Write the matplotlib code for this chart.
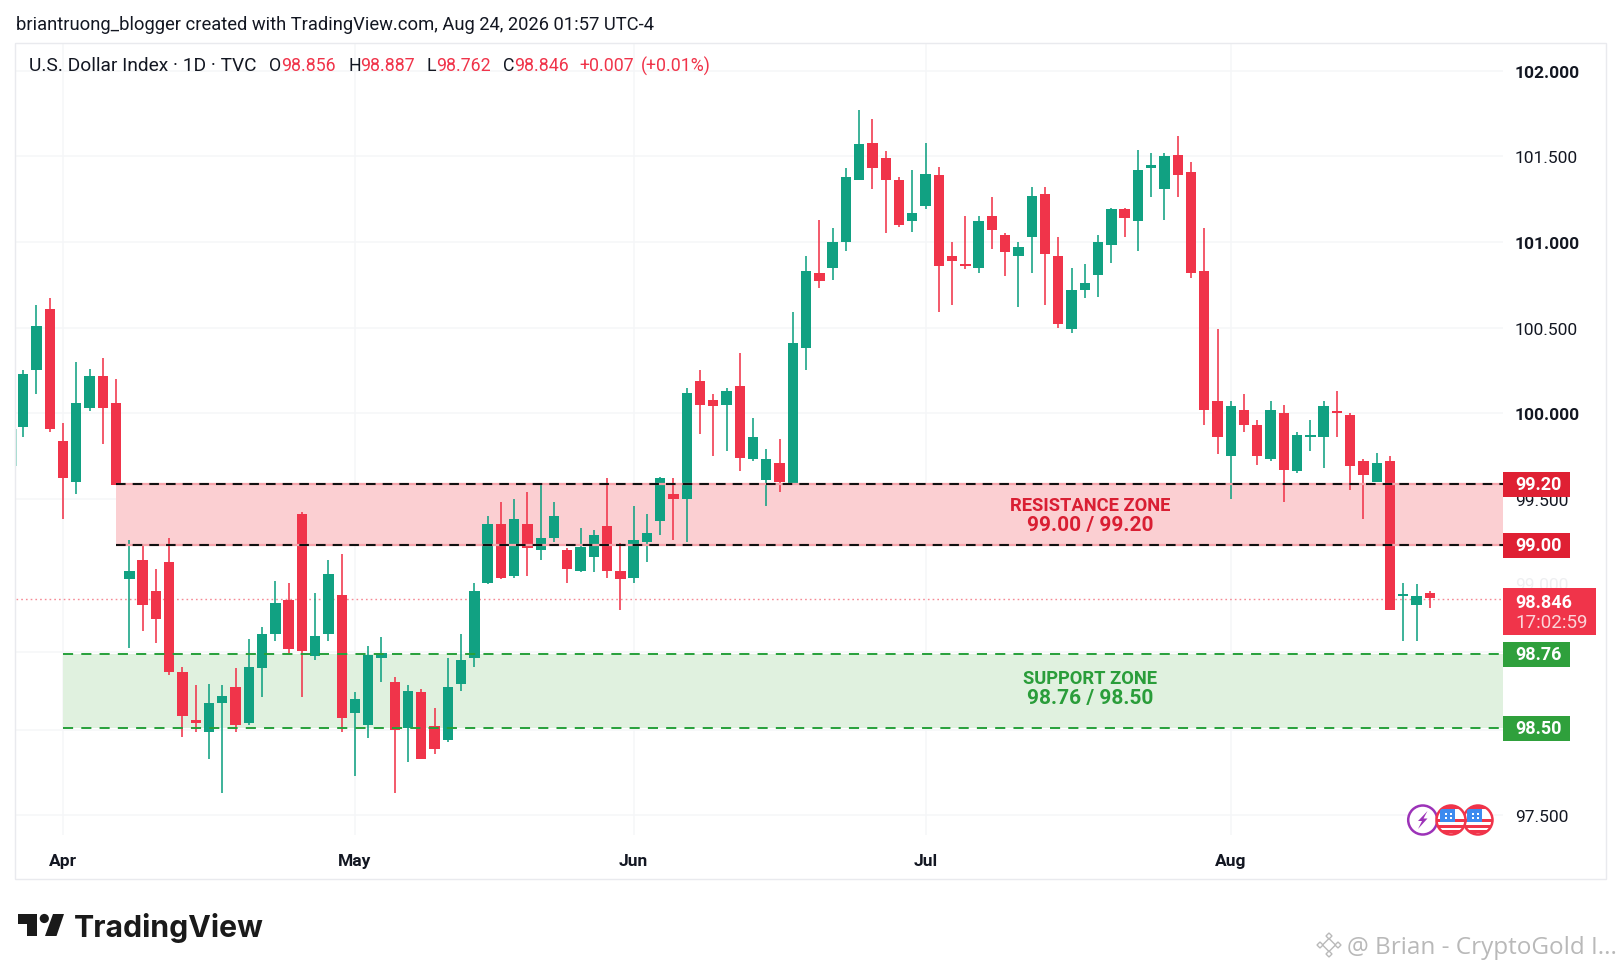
import matplotlib
matplotlib.use("Agg")
import matplotlib.pyplot as plt
from matplotlib.patches import Rectangle, Circle, Polygon, FancyBboxPatch

FONT = "Roboto"
plt.rcParams["font.family"] = [FONT, "DejaVu Sans"]

# ---------- data ----------
opens = [99.92,100.25,100.61,99.84,99.60,100.03,100.22,100.06,99.03,99.14,98.96,99.13,98.49,98.21,98.14,98.31,98.40,98.19,98.51,98.71,
         98.91,99.41,98.58,98.71,98.94,98.25,98.18,98.57,98.43,98.16,98.37,98.17,98.09,98.42,98.57,99.01,99.35,99.05,99.35,99.20,
         99.27,99.20,99.08,99.16,99.34,99.08,99.04,99.25,99.37,99.53,99.50,100.19,100.08,100.05,100.16,99.73,99.61,99.71,99.59,100.38,
         100.82,100.85,101.00,101.36,101.58,101.49,101.36,101.12,101.21,101.39,100.92,100.87,100.85,101.15,101.04,100.92,101.03,101.28,100.92,100.49,
         100.72,100.81,100.98,101.19,101.12,101.43,101.31,101.51,101.41,100.83,100.07,99.75,100.02,99.93,99.73,100.00,99.66,99.86,99.86,100.01,
         99.99,99.72,99.60,99.72,98.93,98.88,98.95]
highs = [100.25,100.63,100.67,99.94,100.30,100.26,100.32,100.20,99.26,99.23,99.09,99.27,98.52,98.41,98.42,98.41,98.51,98.68,98.75,99.02,
         99.01,99.42,98.95,99.14,99.18,98.37,98.64,98.69,98.46,98.41,98.39,98.28,98.57,98.71,99.01,99.40,99.48,99.50,99.54,99.59,
         99.48,99.21,99.33,99.32,99.62,99.24,99.46,99.41,99.63,99.62,100.15,100.25,100.11,100.15,100.35,99.97,99.79,99.85,100.59,100.92,
         101.13,101.08,101.43,101.77,101.72,101.53,101.38,101.42,101.58,101.44,101.00,101.15,101.15,101.26,101.05,101.00,101.32,101.32,101.03,100.85,
         100.87,101.04,101.20,101.20,101.54,101.52,101.52,101.62,101.47,101.08,100.49,100.07,100.11,99.96,100.07,100.05,99.89,99.96,100.07,100.13,
         100.00,99.73,99.77,99.75,99.01,99.00,98.96]
lows = [99.86,100.11,99.89,99.38,99.53,100.01,99.82,99.58,98.63,98.73,98.66,98.47,98.11,98.14,97.98,97.78,98.14,98.18,98.34,98.67,
        98.60,98.34,98.56,98.67,98.14,97.88,98.10,98.43,97.78,97.96,97.98,98.01,98.08,98.38,98.52,99.00,99.03,99.04,99.05,99.14,
        99.25,99.01,99.07,99.07,99.04,98.85,99.01,99.13,99.29,99.26,99.25,99.88,99.75,99.78,99.66,99.72,99.46,99.54,99.58,100.25,
        100.73,100.78,100.95,101.36,101.31,101.05,101.09,101.06,101.19,100.59,100.63,100.84,100.82,100.96,100.80,100.62,100.82,100.63,100.50,100.47,
        100.67,100.68,100.88,101.03,100.95,101.26,101.13,101.26,100.79,99.93,99.76,99.50,99.89,99.70,99.72,99.48,99.65,99.78,99.68,99.86,
        99.55,99.38,99.60,98.85,98.67,98.67,98.86]
closes = [100.23,100.51,99.91,99.62,100.06,100.22,100.03,99.58,99.08,98.88,98.80,98.49,98.23,98.19,98.31,98.35,98.18,98.52,98.71,98.89,
          98.62,98.61,98.70,99.06,98.22,98.33,98.59,98.60,98.15,98.38,97.98,98.04,98.40,98.56,98.96,99.35,99.04,99.38,99.21,99.27,
          99.40,99.09,99.22,99.29,99.08,99.03,99.26,99.30,99.62,99.50,100.12,100.05,100.04,100.13,99.74,99.86,99.73,99.60,100.41,100.83,
          100.77,101.00,101.38,101.57,101.43,101.36,101.10,101.17,101.40,100.86,100.89,100.86,101.12,101.07,100.94,100.97,101.27,100.93,100.52,100.72,
          100.76,101.00,101.19,101.14,101.42,101.45,101.50,101.39,100.82,100.02,99.86,100.04,99.93,99.75,100.02,99.67,99.87,99.87,100.04,100.00,
          99.69,99.64,99.71,98.85,98.94,98.93,98.92]

edge_wick = (99.69, 99.91)          # clipped candle at the left border

month_labels = ["Apr", "May", "Jun", "Jul", "Aug"]
month_index = [3, 25, 46, 68, 91]

y_tick_values = [102.0, 101.5, 101.0, 100.5, 100.0, 99.5, 98.607, 98.15, 97.652]
y_tick_labels = ["102.000", "101.500", "101.000", "100.500", "100.000", "99.500", "", "", "97.500"]

resistance_levels = [99.588, 99.233]
resistance_labels = ["99.20", "99.00"]
support_levels = [98.596, 98.162]
support_labels = ["98.76", "98.50"]
resistance_start = 7
support_start = 3
last_level = 98.915

header = "briantruong_blogger created with TradingView.com, Aug 24, 2026 01:57 UTC-4"

# ---------- style ----------
W, H = 1622, 970
RED, GREEN = "#F0344A", "#11A182"
GRID = "#F5F6F8"
INK = "#131722"

fig = plt.figure(figsize=(W / 100, H / 100), dpi=100, facecolor="white")
L, R, T, B = 15.5, 1503, 45, 836
Y100 = 414.2   # pixel row of the 100.000 gridline
ax = fig.add_axes([L / W, 1 - B / H, (R - L) / W, (B - T) / H])
ax.set_xlim((L - 23.2) / 13.27, (R - 23.2) / 13.27)
ax.set_ylim(100 - (B - Y100) / 171.2, 100 - (T - Y100) / 171.2)
x_right = ax.get_xlim()[1]
for s in ax.spines.values():
    s.set_visible(False)

ax.set_xticks(month_index, month_labels, fontsize=12.5, fontweight="bold", color=INK)
ax.set_yticks(y_tick_values, y_tick_labels, fontsize=12.5, color=INK)
ax.yaxis.tick_right()
ax.tick_params(axis="both", length=0)
ax.tick_params(axis="y", pad=8.5)
ax.tick_params(axis="x", pad=12.8)
ax.grid(True, color=GRID, lw=1.1, zorder=0)
ax.set_axisbelow(True)
for lab, txt in zip(ax.get_yticklabels(), y_tick_labels):
    if txt in ("102.000", "101.000", "100.000"):
        lab.set_fontweight("bold")

# zones
ax.fill_between([resistance_start, x_right], resistance_levels[1], resistance_levels[0],
                color="#FBCFD2", lw=0, zorder=1)
ax.fill_between([support_start, x_right], support_levels[1], support_levels[0],
                color="#E0F1DF", lw=0, zorder=1)

# last price line
ax.axhline(last_level, color="#F58A95", lw=1, ls=(0, (1.2, 2.2)), zorder=1.5)

# candles
ax.vlines(-0.55, edge_wick[0], edge_wick[1], color="#7FCFBD", lw=1.1, zorder=2)
for i, (o, hi, lo, c) in enumerate(zip(opens, highs, lows, closes)):
    col = GREEN if c >= o else RED
    ax.vlines(i, lo, hi, color=col, lw=1.15, zorder=3)
    ax.bar(i, max(abs(c - o), 0.012), bottom=min(o, c), width=0.78, color=col, lw=0, zorder=3)

# zone borders
for lev in resistance_levels:
    ax.hlines(lev, resistance_start, x_right, color="#F7A5AC", lw=1.6, zorder=3.5)
    ax.hlines(lev, resistance_start, x_right, color="#111111", lw=1.5, ls=(0, (4.6, 3.4)), zorder=4)
for lev in support_levels:
    ax.hlines(lev, support_start, x_right, color="#26A03A", lw=1.4, ls=(0, (5.2, 4.2)), zorder=4)

# zone captions
x_cap = (1090 - 23.2) / 13.27
ax.text(x_cap, 99.463, "RESISTANCE ZONE", color="#D91F33", fontsize=13.2, fontweight="bold",
        ha="center", va="center", zorder=5)
ax.text(x_cap, 99.348, "99.00 / 99.20", color="#D91F33", fontsize=15, fontweight="bold",
        ha="center", va="center", zorder=5)
ax.text(x_cap, 98.452, "SUPPORT ZONE", color="#2A9D3A", fontsize=13.2, fontweight="bold",
        ha="center", va="center", zorder=5)
ax.text(x_cap, 98.337, "98.76 / 98.50", color="#2A9D3A", fontsize=15, fontweight="bold",
        ha="center", va="center", zorder=5)

# right-hand level labels
yt = ax.get_yaxis_transform()
box_w = 66.5 / (R - L)
box_h = 25 / 171.2
pad_x = 1 + 12 / (R - L)
box_shift = 0.5 / 171.2
def level_box(level, text, col):
    ax.add_patch(Rectangle((1, level - box_h / 2 - box_shift), box_w, box_h, transform=yt, color=col, lw=0,
                           clip_on=False, zorder=10))
    ax.text(pad_x, level - box_shift, text, transform=yt, color="white", fontsize=13, fontweight="bold",
            ha="left", va="center", clip_on=False, zorder=11)
for lev, t in zip(resistance_levels, resistance_labels):
    level_box(lev, t, "#DF2033")
for lev, t in zip(support_levels, support_labels):
    level_box(lev, t, "#2FA03C")

# last price label
ax.text(pad_x, 99.0, "99.000", transform=yt, color="#EEEFF1", fontsize=12.5, ha="left", va="center",
        clip_on=False, zorder=9)
ax.add_patch(FancyBboxPatch((1, last_level - 0.209), 93 / (R - L), 0.275, transform=yt, fc="#F0344A", lw=0,
                            boxstyle="square,pad=0", clip_on=False, zorder=10))
ax.text(pad_x, last_level - 0.02, "98.846", transform=yt, color="white", fontsize=13, fontweight="bold",
        ha="left", va="center", clip_on=False, zorder=11)
ax.text(pad_x, last_level - 0.136, "17:02:59", transform=yt, color="#FBD5D9", fontsize=13.5,
        ha="left", va="center", clip_on=False, zorder=11)

# ---------- overlay in pixel coordinates ----------
ov = fig.add_axes([0, 0, 1, 1], zorder=5)
ov.set_xlim(0, W)
ov.set_ylim(H, 0)
ov.axis("off")
ov.patch.set_alpha(0)
ov.add_patch(Rectangle((14.5, 43.5), 1591.5, 836.5, fill=False, ec="#E9EAEE", lw=1))

ov.text(16, 25, header, color=INK, fontsize=13.2, va="center", ha="left")
row = [(29, "U.S. Dollar Index · 1D · TVC", INK, 13.8), (269, "O", INK, 12.8), (281, "98.856", RED, 12.8), (348, "H", INK, 12.8),
       (360, "98.887", RED, 12.8), (427, "L", INK, 12.8), (436.5, "98.762", RED, 12.8), (502.6, "C", INK, 12.8),
       (514, "98.846", RED, 12.8), (579.5, "+0.007", RED, 12.8), (641, "(+0.01%)", RED, 12.8)]
for x, t, col, fs in row:
    ov.text(x, 66, t, color=col, fontsize=fs, va="center", ha="left")

# TradingView logo
logo = "#1A1A1A"
ov.add_patch(Polygon([(18, 915), (37, 915), (37, 937), (27, 937), (27, 925), (18, 925)], color=logo, lw=0))
ov.add_patch(Circle((44.3, 919.5), 4.6, color=logo, lw=0))
ov.add_patch(Polygon([(53, 915), (64, 915), (56.5, 937), (45, 937)], color=logo, lw=0))
ov.text(74, 937, "TradingView", color=logo, fontsize=21.8, fontweight="bold", family="Inter", va="baseline", ha="left")

# watermark
wm = "#B9B9B9"
cx, cy = 1329, 946
for dx, dy, r in [(0, 0, 6.5), (-9, 0, 3), (9, 0, 3), (0, -9, 3), (0, 9, 3)]:
    ov.add_patch(Polygon([(cx + dx - r, cy + dy), (cx + dx, cy + dy - r), (cx + dx + r, cy + dy), (cx + dx, cy + dy + r)],
                         fill=False, ec=wm, lw=1))
ov.text(1347, 948, "@ Brian - CryptoGold I...", color=wm, fontsize=17.5, family="Open Sans", va="center", ha="left")

# badges
def flag(x, y, r=14.5):
    ring = Circle((x, y), r, fc="white", ec="#F0344A", lw=1.8, zorder=6)
    ov.add_patch(ring)
    items = [Rectangle((x - r, y + k), 2 * r, 2.6, color="#F0344A", lw=0, zorder=6.1) for k in (-1, 5, 10)]
    items.append(Rectangle((x - r, y - r), 2 * r, 3.0, color="#F0344A", lw=0, zorder=6.1))
    items.append(Rectangle((x - r + 3, y - r + 3), r + 0.5, r - 1, color="#3D8BEF", lw=0, zorder=6.2))
    for it in items:
        ov.add_patch(it)
        it.set_clip_path(ring)
    for dx, dy in [(-6, -7), (-1, -7), (-6, -3), (-1, -3)]:
        ov.add_patch(Rectangle((x + dx, y + dy), 2, 2, color="white", lw=0, zorder=6.3))
ov.add_patch(Circle((1422.7, 821), 14.5, fc="white", ec="#9C33B8", lw=1.8, zorder=5))
ov.add_patch(Polygon([(1427.5, 812), (1418, 822), (1422, 822), (1418, 830), (1427.5, 819.5), (1423.5, 819.5)],
                     color="#9C33B8", lw=0, zorder=5.5))
flag(1478, 821)
flag(1451, 821)

fig.savefig("out.png", dpi=100, facecolor="white")
